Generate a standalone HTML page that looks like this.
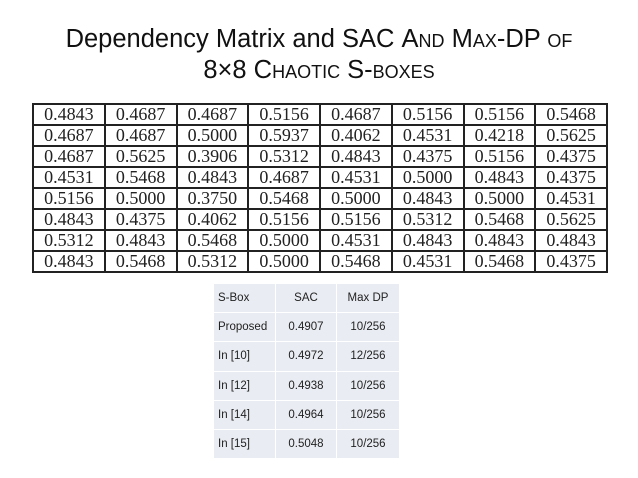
<!DOCTYPE html>
<html><head><meta charset="utf-8"><style>
body{margin:0;width:638px;height:478px;background:#fff;position:relative;overflow:hidden;font-family:"Liberation Sans",sans-serif}
#title{position:absolute;left:0;top:24px;width:638px;text-align:center;font-size:25.5px;line-height:31px;color:#111}
.sc{font-variant:small-caps}
#matrix{position:absolute;left:32px;top:103px;width:576px;height:170px;border-collapse:collapse;font-family:"Liberation Serif",serif;font-size:18px;color:#222;table-layout:fixed}
#matrix td{border:2px solid #222;text-align:center;padding:0;height:19px;line-height:19px}
#cmp{position:absolute;left:213px;top:283px;width:186px;border-collapse:collapse;font-size:11.5px;color:#222;background:#e9ecf2;table-layout:fixed}
#cmp td{border:1.5px solid #fff;height:28.2px;padding:0 4px}
#cmp td:nth-child(2),#cmp td:nth-child(3){text-align:center}
</style></head><body>
<div id="title">Dependency Matrix and SAC <span class="sc">And Max</span>-DP <span class="sc">of</span><br>8×8 <span class="sc">Chaotic S-boxes</span></div>
<table id="matrix"></table>
<table id="cmp"><colgroup><col style="width:62px"><col style="width:61px"><col style="width:63px"></colgroup></table>
<script>
const matrixRows=[
["0.4843","0.4687","0.4687","0.5156","0.4687","0.5156","0.5156","0.5468"],
["0.4687","0.4687","0.5000","0.5937","0.4062","0.4531","0.4218","0.5625"],
["0.4687","0.5625","0.3906","0.5312","0.4843","0.4375","0.5156","0.4375"],
["0.4531","0.5468","0.4843","0.4687","0.4531","0.5000","0.4843","0.4375"],
["0.5156","0.5000","0.3750","0.5468","0.5000","0.4843","0.5000","0.4531"],
["0.4843","0.4375","0.4062","0.5156","0.5156","0.5312","0.5468","0.5625"],
["0.5312","0.4843","0.5468","0.5000","0.4531","0.4843","0.4843","0.4843"],
["0.4843","0.5468","0.5312","0.5000","0.5468","0.4531","0.5468","0.4375"]];
const cmpHeader=["S-Box","SAC","Max DP"];
const cmpNames=["Proposed","In [10]","In [12]","In [14]","In [15]"];
const cmpSac=["0.4907","0.4972","0.4938","0.4964","0.5048"];
const cmpDp=["10/256","12/256","10/256","10/256","10/256"];
const m=document.getElementById('matrix');
matrixRows.forEach((r,i)=>{const tr=document.createElement('tr');


r.forEach(v=>{const td=document.createElement('td');td.textContent=v;


tr.appendChild(td);});m.appendChild(tr);});
const c=document.getElementById('cmp');
function addRow(cells,name){const tr=document.createElement('tr');


cells.forEach(v=>{const td=document.createElement('td');td.textContent=v;


tr.appendChild(td);});c.appendChild(tr);}
addRow(cmpHeader,'header-row');
cmpNames.forEach((n,i)=>addRow([n,cmpSac[i],cmpDp[i]],'data-row'));
</script>
</body></html>
